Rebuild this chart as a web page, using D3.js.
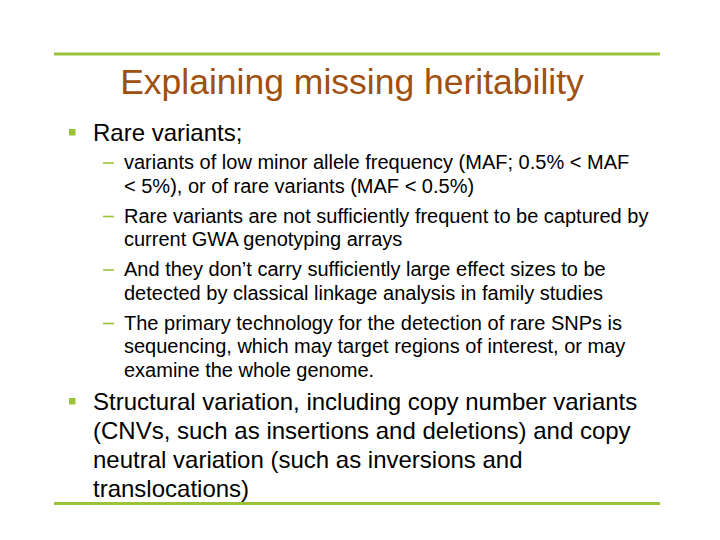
<!DOCTYPE html>
<html>
<head>
<meta charset="utf-8">
<script src="https://cdn.jsdelivr.net/npm/d3@7"></script>
<style>
  html, body { margin: 0; padding: 0; background: #fff; }
  svg { display: block; }
  text { font-family: "Liberation Sans", Arial, Helvetica, sans-serif; }
</style>
</head>
<body>
<script>
(function() {

var title = "Explaining missing heritability";

// level 0 = square bullet, level 1 = dash; each entry is one paragraph, pre-wrapped
var levels = [0, 1, 1, 1, 1, 0];
var paragraphs = [
  ["Rare variants;"],
  ["variants of low minor allele frequency (MAF; 0.5% < MAF",
   "< 5%), or of rare variants (MAF < 0.5%)"],
  ["Rare variants are not sufficiently frequent to be captured by",
   "current GWA genotyping arrays"],
  ["And they don\u2019t carry sufficiently large effect sizes to be",
   "detected by classical linkage analysis in family studies"],
  ["The primary technology for the detection of rare SNPs is",
   "sequencing, which may target regions of interest, or may",
   "examine the whole genome."],
  ["Structural variation, including copy number variants",
   "(CNVs, such as insertions and deletions) and copy",
   "neutral variation (such as inversions and",
   "translocations)"]
];

var width = 720, height = 540,
    green = "#9bc33a", brown = "#a0500f",
    lineH  = [29, 23.5],       // line height per level
    fontPx = [24, 20],
    markX  = [69, 103],        // marker left edge per level
    textX  = [93, 124];

// work out baselines paragraph by paragraph
var lines = [], paras = [], y = 141;
paragraphs.forEach(function(p, i) {
  var lv = levels[i];
  if (i > 0) {
    var extra = (lv === 1 && levels[i-1] === 1) ? 6.5 : 4.5;
    y += lineH[lv] + extra;
  }
  paras.push({level: lv, y: y});
  p.forEach(function(s, j) {
    if (j > 0) y += lineH[lv];
    lines.push({level: lv, y: y, text: s});
  });
});

var svg = d3.select("body").append("svg")
  .attr("width", width)
  .attr("height", height);

// rules above the title and under the body
var x = d3.scaleLinear().domain([0, 1]).range([54, 660]);
svg.selectAll("line.rule")
  .data([54, 503.5])
  .enter().append("line")
    .attr("class", "rule")
    .attr("x1", x(0)).attr("x2", x(1))
    .attr("y1", function(d) { return d; })
    .attr("y2", function(d) { return d; })
    .attr("stroke", green)
    .attr("stroke-width", 3);

svg.append("text")
  .attr("x", 352)
  .attr("y", 94)
  .attr("text-anchor", "middle")
  .attr("fill", brown)
  .attr("font-size", 35.5)
  .text(title);

// markers
svg.selectAll("rect.bullet")
  .data(paras.filter(function(d) { return d.level === 0; }))
  .enter().append("rect")
    .attr("class", "bullet")
    .attr("x", markX[0])
    .attr("y", function(d) { return d.y - 12; })
    .attr("width", 6.5)
    .attr("height", 6.5)
    .attr("fill", green);

svg.selectAll("line.dash")
  .data(paras.filter(function(d) { return d.level === 1; }))
  .enter().append("line")
    .attr("class", "dash")
    .attr("x1", markX[1]).attr("x2", markX[1] + 11)
    .attr("y1", function(d) { return d.y - 6; })
    .attr("y2", function(d) { return d.y - 6; })
    .attr("stroke", green)
    .attr("stroke-width", 1.6);

svg.selectAll("text.body")
  .data(lines)
  .enter().append("text")
    .attr("class", "body")
    .attr("x", function(d) { return textX[d.level]; })
    .attr("y", function(d) { return d.y; })
    .attr("font-size", function(d) { return fontPx[d.level]; })
    .attr("fill", "#000")
    .text(function(d) { return d.text; });

})();
</script>
</body>
</html>
